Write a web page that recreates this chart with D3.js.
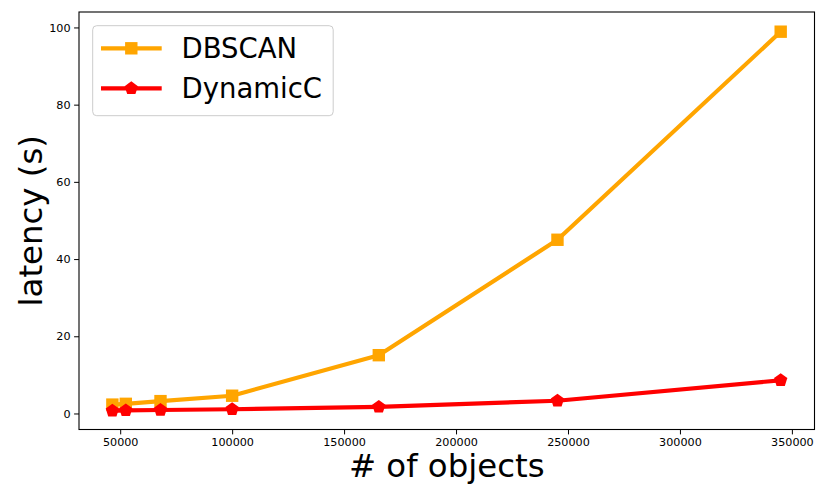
<!DOCTYPE html>
<html>
<head>
<meta charset="utf-8">
<script src="https://cdn.jsdelivr.net/npm/d3@7"></script>
<style>
  body { margin: 0; background: #fff; }
  svg text { font-family: "DejaVu Sans", sans-serif; }
</style>
</head>
<body>
<svg id="chart" width="830" height="498"></svg>
<script>
// data
var objects = [46500, 52500, 68000, 100000, 165500, 245300, 345000];
var dbscan = [2.3, 2.5, 3.2, 4.6, 15.1, 45.0, 98.9];
var dynamicC = [0.7, 0.8, 0.9, 1.1, 1.7, 3.3, 8.6];
var xTicks = [50000, 100000, 150000, 200000, 250000, 300000, 350000];
var yTicks = [0, 20, 40, 60, 80, 100];
var seriesNames = ["DBSCAN", "DynamicC"];
var seriesColors = ["#ffa500", "#ff0000"];

var svg = d3.select("#chart");
var plotL = 79, plotR = 814.5, plotT = 12, plotB = 429.5;

var x = d3.scaleLinear().domain([31600, 360100]).range([plotL, plotR]);
var y = d3.scaleLinear().domain([-4.15, 104]).range([plotB, plotT]);

// pentagon like matplotlib 'p'
function pentagon(r) {
	var pts = d3.range(5).map(function(i) {
		var a = -Math.PI / 2 + i * 2 * Math.PI / 5;
		return [r * Math.cos(a), r * Math.sin(a)];
	});
	return "M" + pts.map(function(p) { return p[0].toFixed(2) + "," + p[1].toFixed(2); }).join("L") + "Z";
}
function marker(g, kind, color) {
	if (kind === 0) {
		g.append("rect").attr("x", -6.2).attr("y", -6.2).attr("width", 12.4).attr("height", 12.4).attr("fill", color);
	} else {
		g.append("path").attr("d", pentagon(7)).attr("fill", color);
	}
}

// axes
var xAxis = d3.axisBottom(x).tickValues(xTicks).tickSize(4.9).tickPadding(3.5).tickFormat(d3.format("d"));
var yAxis = d3.axisLeft(y).tickValues(yTicks).tickSize(4.9).tickPadding(3.5).tickFormat(d3.format("d"));

var gx = svg.append("g").attr("transform", "translate(0," + plotB + ")").call(xAxis);
var gy = svg.append("g").attr("transform", "translate(" + plotL + ",0)").call(yAxis);
[gx, gy].forEach(function(g) {
	g.select(".domain").remove();
	g.selectAll("line").attr("stroke", "#000").attr("stroke-width", 1);
	g.selectAll("text").attr("font-size", "11.2px").attr("fill", "#000").style("font-family", "DejaVu Sans");
});

// series
var line = d3.line().x(function(d) { return x(d[0]); }).y(function(d) { return y(d[1]); });
[dbscan, dynamicC].forEach(function(vals, k) {
	var pts = objects.map(function(o, i) { return [o, vals[i]]; });
	svg.append("path").datum(pts).attr("d", line)
		.attr("fill", "none").attr("stroke", seriesColors[k]).attr("stroke-width", 4.2)
		.attr("stroke-linejoin", "round").attr("stroke-linecap", "square");
	pts.forEach(function(p) {
		var g = svg.append("g").attr("transform", "translate(" + x(p[0]) + "," + y(p[1]) + ")");
		marker(g, k, seriesColors[k]);
	});
});

// frame
svg.append("rect").attr("x", plotL).attr("y", plotT).attr("width", plotR - plotL).attr("height", plotB - plotT)
	.attr("fill", "none").attr("stroke", "#000").attr("stroke-width", 1.1);

// axis labels
svg.append("text").attr("x", (plotL + plotR) / 2).attr("y", 477).attr("text-anchor", "middle")
	.attr("font-size", "32.4px").text("# of objects");
svg.append("text").attr("transform", "translate(41.5," + (plotT + plotB) / 2 + ") rotate(-90)")
	.attr("text-anchor", "middle").attr("font-size", "32.4px").text("latency (s)");

// legend
var lg = svg.append("g");
lg.append("rect").attr("x", 92.7).attr("y", 25.7).attr("width", 240.5).attr("height", 90)
	.attr("rx", 4).attr("fill", "#fff").attr("fill-opacity", 0.8).attr("stroke", "#cccccc").attr("stroke-width", 1);
seriesNames.forEach(function(name, k) {
	var cy = 48.3 + k * 40;
	lg.append("line").attr("x1", 101).attr("x2", 161.7).attr("y1", cy).attr("y2", cy)
		.attr("stroke", seriesColors[k]).attr("stroke-width", 4.2);
	var g = lg.append("g").attr("transform", "translate(131.3," + cy + ")");
	marker(g, k, seriesColors[k]);
	lg.append("text").attr("x", 181.5).attr("y", cy + 10).attr("font-size", "27.5px").text(name);
});
</script>
</body>
</html>
